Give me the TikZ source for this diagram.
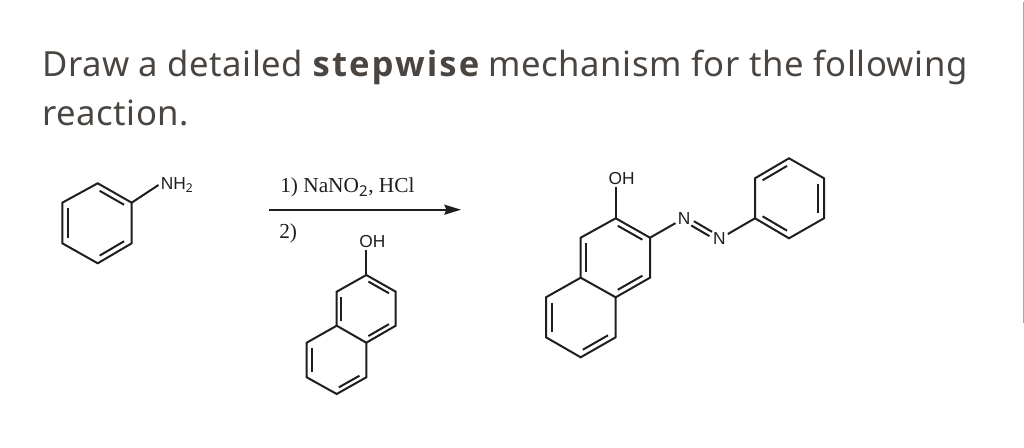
\documentclass[tikz,border=0pt]{standalone}
\usepackage{fontspec}
\usepackage{xcolor}
\usetikzlibrary{calc,arrows.meta}
\setmainfont{Noto Sans}[LetterSpace=1.5]
\newfontfamily\stepfont{Open Sans}[LetterSpace=6.0]
\newfontfamily\chemfont{Liberation Sans}
\newfontfamily\reagentfont{Liberation Serif}
\definecolor{headtext}{HTML}{4A4541}
\definecolor{bondcolor}{HTML}{1E1E1E}
\tikzset{
    bond/.style={draw=bondcolor, line width=1.5pt, line join=miter},
    headline/.style={anchor=base west, inner sep=0pt, text=headtext, font=\fontsize{26}{30}\selectfont},
    atomlabel/.style={inner sep=1.5pt, text=bondcolor, font=\chemfont\fontsize{13}{15}\selectfont},
    reagent/.style={anchor=base west, inner sep=0pt, text=bondcolor, font=\reagentfont\fontsize{16}{18}\selectfont}
}
\newcommand{\innerbond}[3]{\draw [bond, shorten <=1.8pt, shorten >=1.8pt] ($(#1)!0.16!(#3)$) -- ($(#2)!0.16!(#3)$);}
\begin{document}
\begin{tikzpicture}[x=0.75pt,y=-0.75pt]
    \useasboundingbox (0,0) rectangle (1024,448);
    \node [headline] (line1) at (42,77) {Draw a detailed {\stepfont\bfseries stepwise} mechanism for the following};
    \node [headline] (line2) at (42,126) {reaction.};
    \coordinate (edgetop) at (1023.4,2);
    \coordinate (edgebot) at (1023.4,323);
    \draw [gray!70, line width=0.9pt] (edgetop) -- (edgebot);

    % aniline
    \coordinate (a1) at (97.7,183.3);
    \coordinate (a2) at (131.7,202.7);
    \coordinate (a3) at (131.7,243.3);
    \coordinate (a4) at (97.7,263.3);
    \coordinate (a5) at (62.3,243.3);
    \coordinate (a6) at (62.3,202.7);
    \coordinate (ac) at (97,223);
    \node [atomlabel, anchor=west] (nh) at (158.5,185) {NH$_{\mathrm{2}}$};
    \draw [bond] (a1)--(a2)--(a3)--(a4)--(a5)--(a6)--cycle;
    \innerbond{a1}{a2}{ac}
    \innerbond{a3}{a4}{ac}
    \innerbond{a5}{a6}{ac}
    \draw [bond] (a2) -- (nh.west);

    % arrow and reagents
    \coordinate (arrowa) at (269.3,209.7);
    \coordinate (arrowb) at (461,209.7);
    \draw [bond, line width=1.3pt, -{Stealth[length=12.5pt,width=7.5pt,inset=1.5pt]}] (arrowa) -- (arrowb);
    \node [reagent] (step1) at (280,193) {1) NaNO$_{\mathrm{2}}$, HCl};
    \node [reagent] (step2) at (279,238.5) {2)};

    % naphthol reagent
    \coordinate (b1) at (366.3,275);
    \coordinate (b2) at (395.7,291.7);
    \coordinate (b3) at (395.7,325.7);
    \coordinate (b4) at (366.3,342.7);
    \coordinate (b5) at (336.7,325.7);
    \coordinate (b6) at (336.7,291.7);
    \coordinate (b7) at (306.7,342.7);
    \coordinate (b8) at (306.7,377.3);
    \coordinate (b9) at (336.7,394);
    \coordinate (b10) at (366.3,377.3);
    \coordinate (bc) at (366.3,308.7);
    \coordinate (bd) at (336.7,360);
    \node [atomlabel] (oh1) at (372.3,241.7) {OH};
    \draw [bond] (b1)--(b2)--(b3)--(b4)--(b5)--(b6)--cycle;
    \draw [bond] (b5)--(b7)--(b8)--(b9)--(b10)--(b4);
    \innerbond{b1}{b2}{bc}
    \innerbond{b3}{b4}{bc}
    \innerbond{b5}{b6}{bc}
    \innerbond{b7}{b8}{bd}
    \innerbond{b9}{b10}{bd}
    \draw [bond] (b1) -- (b1 |- oh1.south);

    % product
    \coordinate (c1) at (615.7,218.3);
    \coordinate (c2) at (650,237.7);
    \coordinate (c3) at (650,277.7);
    \coordinate (c4) at (615.7,297.3);
    \coordinate (c5) at (580.7,277.7);
    \coordinate (c6) at (580.7,237.7);
    \coordinate (c7) at (546,297.3);
    \coordinate (c8) at (546,337.3);
    \coordinate (c9) at (580.7,357.3);
    \coordinate (c10) at (615.7,337.3);
    \coordinate (cc) at (615.7,257.7);
    \coordinate (cd) at (580.7,317.5);
    \node [atomlabel] (oh2) at (621.7,178.3) {OH};
    \node [atomlabel] (na) at (684,218.3) {N};
    \node [atomlabel] (nb) at (719.3,239) {N};
    \draw [bond] (c1)--(c2)--(c3)--(c4)--(c5)--(c6)--cycle;
    \draw [bond] (c5)--(c7)--(c8)--(c9)--(c10)--(c4);
    \innerbond{c1}{c2}{cc}
    \innerbond{c3}{c4}{cc}
    \innerbond{c5}{c6}{cc}
    \innerbond{c7}{c8}{cd}
    \innerbond{c9}{c10}{cd}
    \draw [bond] (c1) -- (c1 |- oh2.south);
    \draw [bond] (c2) -- (na);
    \draw [bond, transform canvas={xshift=1pt,yshift=1.6pt}] (na) -- (nb);
    \draw [bond, transform canvas={xshift=-1pt,yshift=-1.6pt}] (na) -- (nb);

    % phenyl on the azo group
    \coordinate (d1) at (755,218.3);
    \coordinate (d2) at (755,178.3);
    \coordinate (d3) at (789,158.3);
    \coordinate (d4) at (824,178.3);
    \coordinate (d5) at (824,218.3);
    \coordinate (d6) at (789,238.3);
    \coordinate (dc) at (789.5,198.3);
    \draw [bond] (d1)--(d2)--(d3)--(d4)--(d5)--(d6)--cycle;
    \innerbond{d2}{d3}{dc}
    \innerbond{d4}{d5}{dc}
    \innerbond{d6}{d1}{dc}
    \draw [bond] (nb) -- (d1);
\end{tikzpicture}
\end{document}
